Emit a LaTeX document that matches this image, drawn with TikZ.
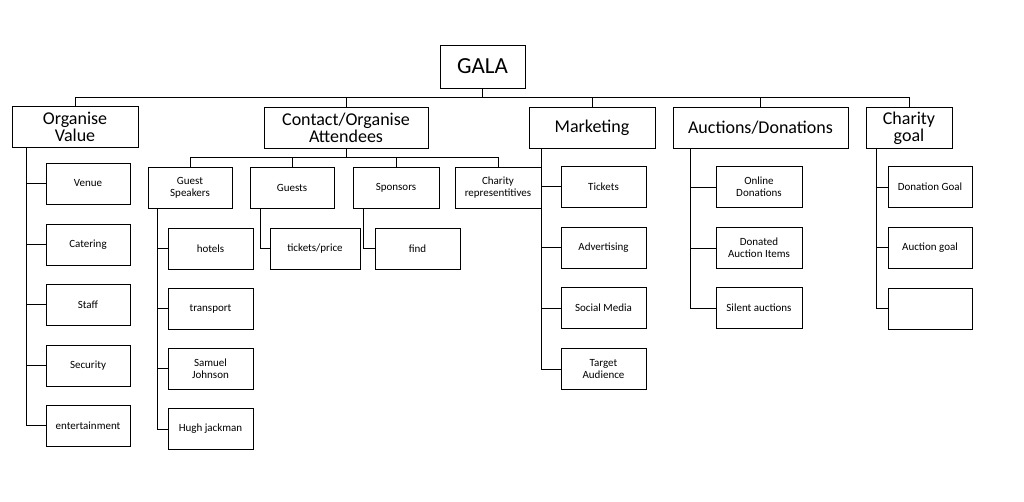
\documentclass[tikz,border=0pt]{standalone}
\usepackage{fontspec}
\setmainfont{Carlito}
\usetikzlibrary{calc}
\tikzset{box/.style={draw=black,thick,fill=white,align=center,inner sep=1pt,
    minimum width=#1},box/.default=84}
\tikzset{leaf/.style={box=#1,minimum height=41,font=\fontsize{11}{12}\selectfont},leaf/.default=85}
\tikzset{head/.style={box=#1,minimum height=41,font=\fontsize{18}{17}\selectfont},head/.default=126}
\tikzset{link/.style={thick,black}}

\begin{document}
\begin{tikzpicture}[x=1pt,y=-1pt]
	\useasboundingbox (0,0) rectangle (1024,501);

	% The root
	\node [box=85,minimum height=43,font=\fontsize{23}{24}\selectfont] (gala) at (482.5,66.5) {GALA};
	\coordinate (bar left)  at (75,97);
	\coordinate (bar right) at (910,97);
	\draw [link] (gala.south) -- (gala.south |- bar left);
	\draw [link] (bar left) -- (bar right);

	% The main headings
	\node [head=126] (venuehead) at (75,127) {Organise\\Value};
	\node [head=164] (contact)   at (346,128) {Contact/Organise\\Attendees};
	\node [head=126] (marketing) at (592,127.5) {Marketing};
	\node [head=175] (auctions)  at (760.5,128) {Auctions/Donations};
	\node [head=86]  (goal)      at (909,128) {Charity\\goal};
	\foreach \h in {venuehead,contact,marketing,auctions,goal}
		\draw [link] (\h.north) -- (\h.north |- bar left);

	% Organise Value
	\coordinate (venue trunk) at (26,147);
	\foreach \n/\t/\y in {venue/Venue/183.5, catering/Catering/244.5, staff/Staff/304.5,
	                      security/Security/365.5, entertain/entertainment/425.5} {
		\node [leaf=84] (\n) at (88,\y) {\t};
		\draw [link] (venue trunk) |- (\n.west);
	}

	% Contact/Organise Attendees
	\coordinate (sub bar) at (346,157);
	\draw [link] (contact.south) -- (sub bar);
	\node [leaf=84] (speakers) at (190,187.5) {Guest\\Speakers};
	\node [leaf=84] (guests)   at (292,187.5) {Guests};
	\node [leaf=86] (sponsors) at (396,187.5) {Sponsors};
	\node [leaf=86] (charity)  at (498,187.5) {Charity\\representitives};
	\draw [link] (speakers.north |- sub bar) -- (charity.north |- sub bar);
	\foreach \n in {speakers,guests,sponsors,charity}
		\draw [link] (\n.north) -- (\n.north |- sub bar);

	\coordinate (speaker trunk) at (157,208);
	\foreach \n/\t/\y in {hotels/hotels/248.5, transport/transport/308.5,
	                      samuel/{Samuel\\Johnson}/368.5, hugh/Hugh jackman/429} {
		\node [leaf=85] (\n) at (210.5,\y) {\t};
		\draw [link] (speaker trunk) |- (\n.west);
	}
	\node [leaf=90] (tickets price) at (315,248.5) {tickets/price};
	\draw [link] (guests.south -| 260,0) |- (tickets price.west);
	\node [leaf=85] (find) at (417.5,248.5) {find};
	\draw [link] (sponsors.south -| 363,0) |- (find.west);

	% Marketing
	\coordinate (market trunk) at (541,148);
	\foreach \n/\t/\y in {tickets/Tickets/186.5, advertising/Advertising/247.5,
	                      social/Social Media/308, target/{Target\\Audience}/369} {
		\node [leaf=85] (\n) at (603.5,\y) {\t};
		\draw [link] (market trunk) |- (\n.west);
	}
	\node [leaf=86] (charity) at (498,187.5) {Charity\\representitives};

	% Auctions/Donations
	\coordinate (auction trunk) at (690,149);
	\foreach \n/\t/\y in {online/{Online\\Donations}/187, donated/{Donated\\Auction Items}/248,
	                      silent/Silent auctions/308} {
		\node [leaf=86] (\n) at (759,\y) {\t};
		\draw [link] (auction trunk) |- (\n.west);
	}

	% Charity goal
	\coordinate (goal trunk) at (876,149);
	\foreach \n/\t/\y in {donation goal/Donation Goal/187, auction goal/Auction goal/247.5,
	                      empty goal/{}/308.5} {
		\node [leaf=84] (\n) at (930,\y) {\t};
		\draw [link] (goal trunk) |- (\n.west);
	}
\end{tikzpicture}
\end{document}
